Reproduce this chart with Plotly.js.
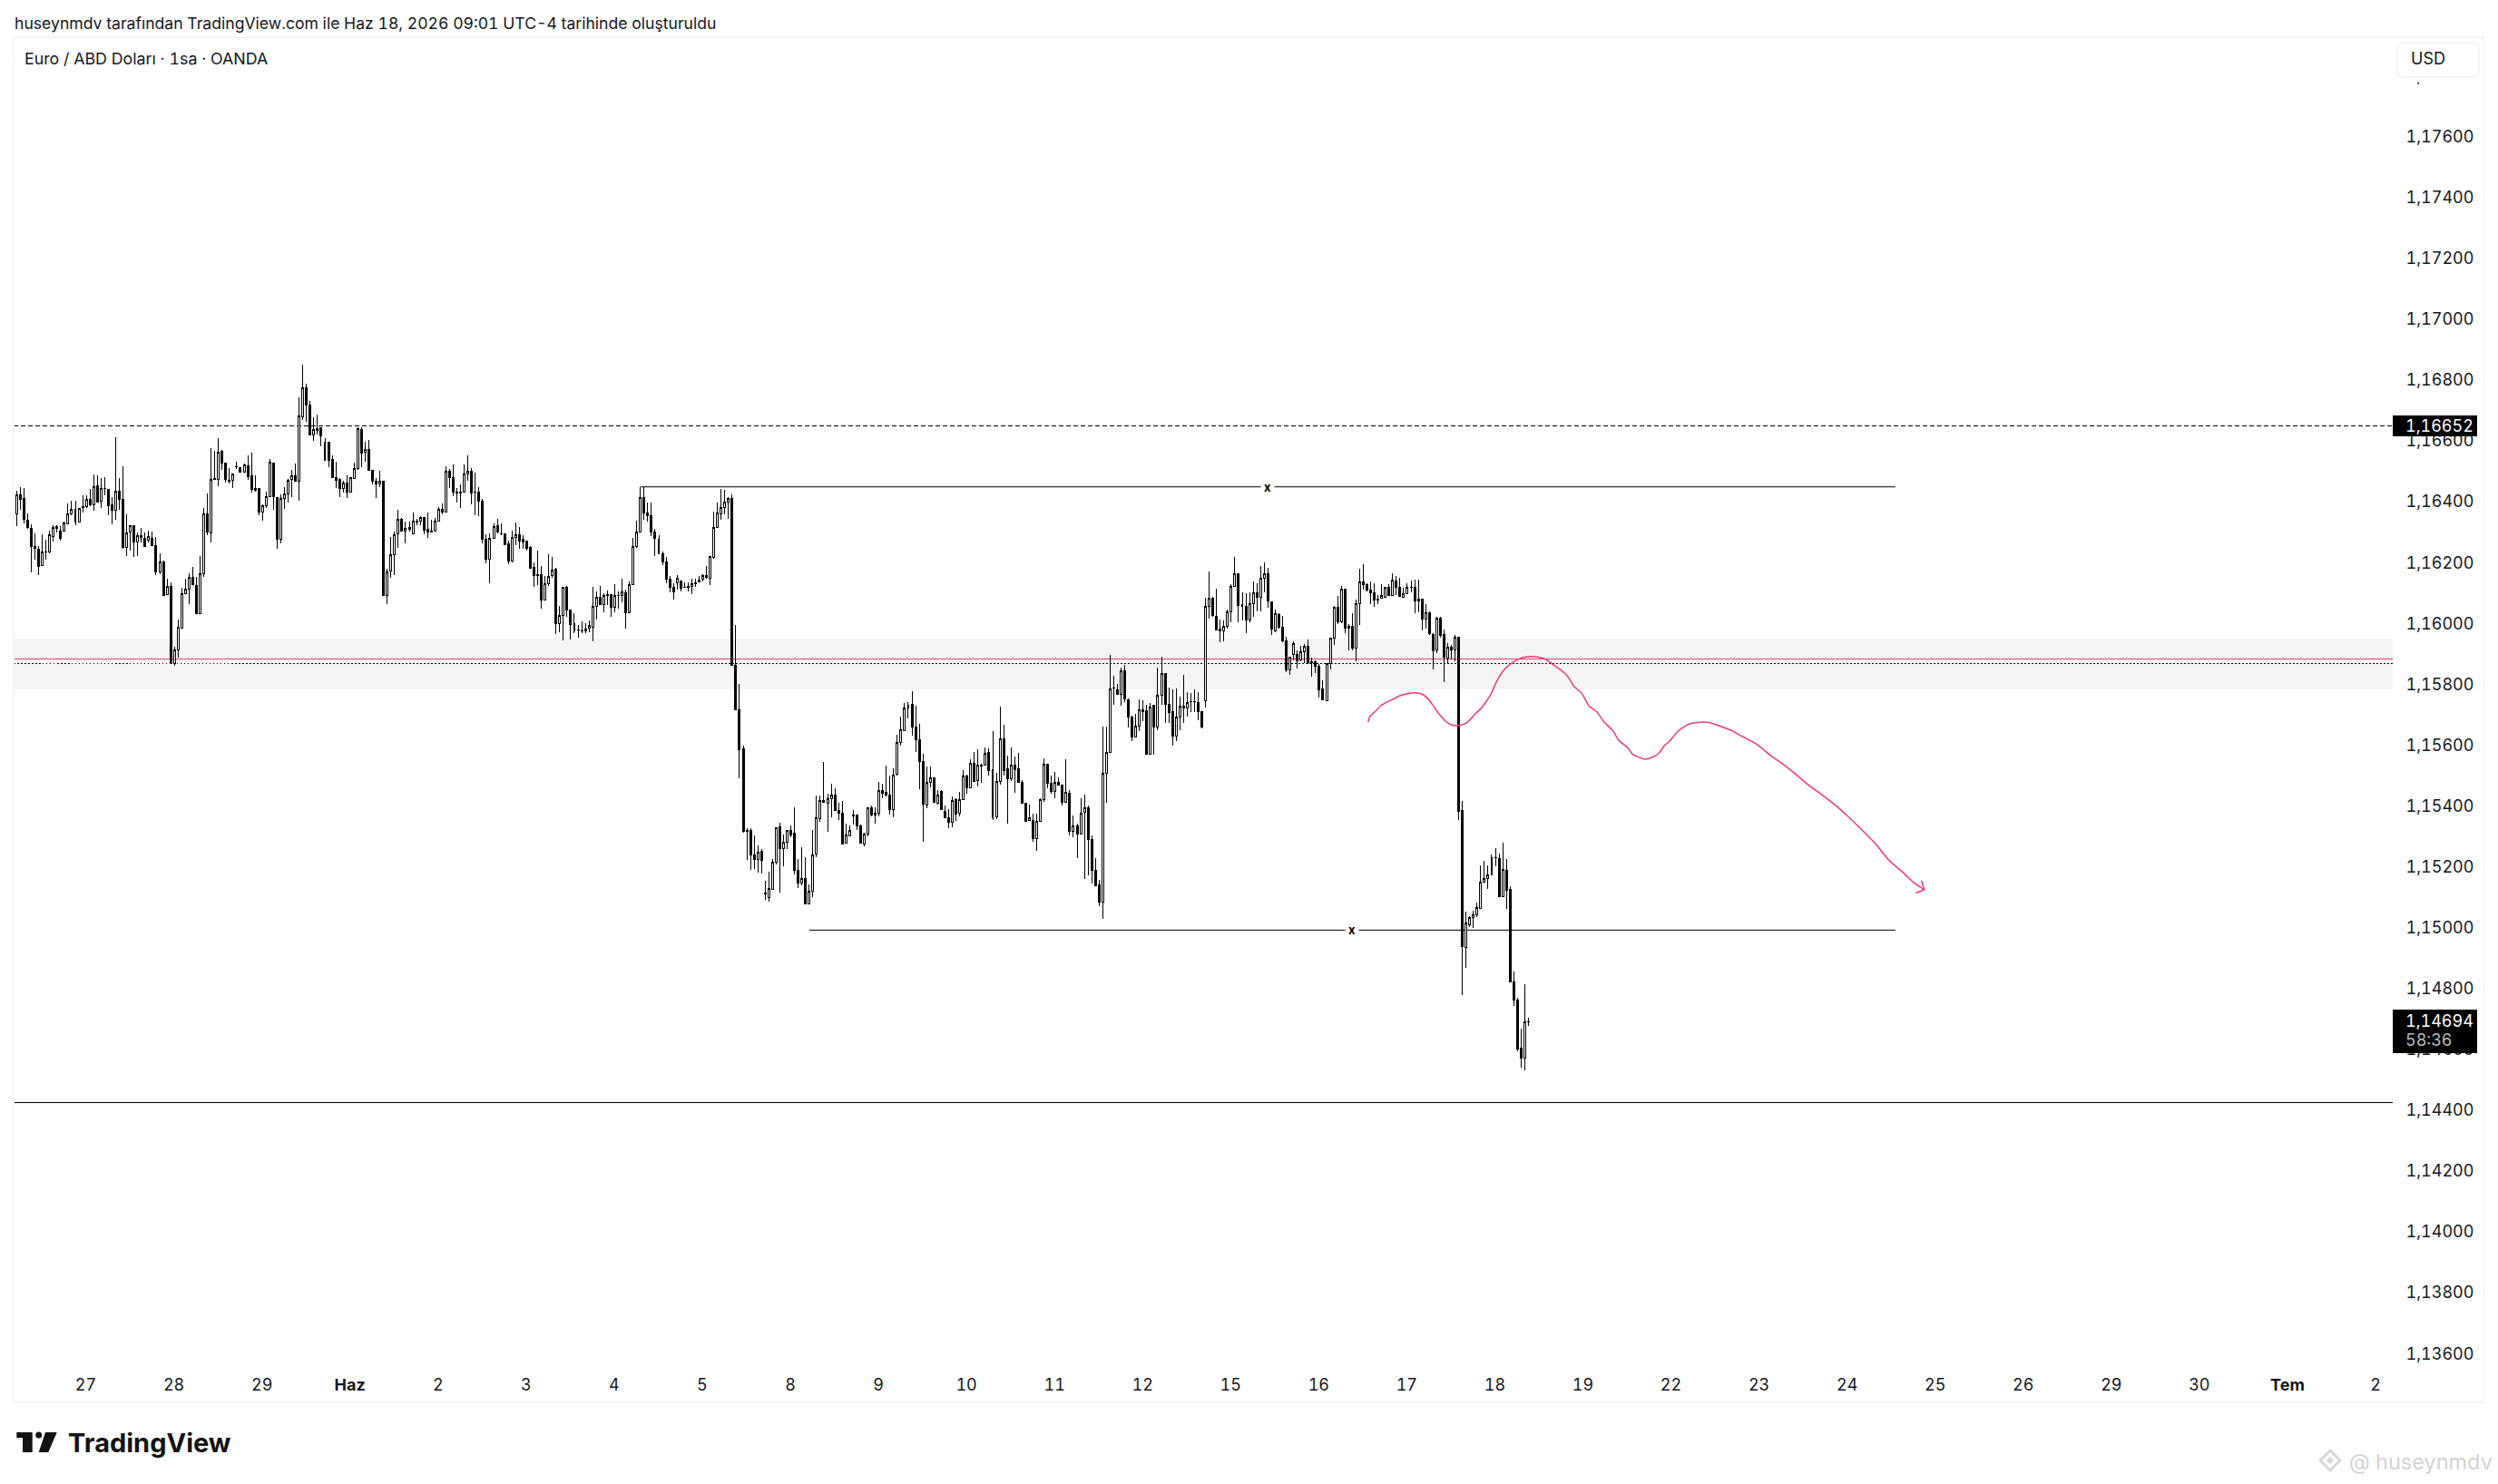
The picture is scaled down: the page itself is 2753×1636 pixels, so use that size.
<!DOCTYPE html>
<html><head><meta charset="utf-8">
<script src="https://cdn.plot.ly/plotly-3.0.1.min.js"></script>
<style>html,body{margin:0;padding:0;background:#fff}#c{width:2753px;height:1636px}
.xtick text,.ytick text,.annotation-text{font-variant-numeric:tabular-nums;font-feature-settings:"tnum"}
.layer-below .shapelayer path,.boxes path{shape-rendering:crispEdges}</style>
</head><body><div id="c"></div>
<script>
// Prices in 1e-5 units, one entry per hourly candle
const opens=[116360,116423,116411,116339,116313,116253,116244,116189,116234,116234,
116286,116317,116304,116304,116328,116359,116375,116334,116384,116383,
116408,116389,116453,116401,116443,116442,116390,116371,116435,116408,
116250,116300,116320,116267,116289,116280,116273,116280,116257,116169,
116203,116095,116122,115867,115913,115986,116098,116113,116152,116125,
116031,116164,116360,116298,116477,116474,116566,116527,116472,116470,
116514,116513,116497,116518,116484,116443,116444,116365,116386,116416,
116527,116414,116276,116411,116425,116473,116485,116467,116679,116775,
116718,116619,116634,116644,116596,116596,116539,116480,116474,116443,
116462,116431,116477,116509,116638,116562,116572,116503,116468,116458,
116468,116092,116172,116226,116294,116342,116303,116316,116294,116337,
116336,116349,116310,116304,116303,116336,116375,116366,116499,116480,
116433,116433,116431,116491,116501,116433,116433,116403,116277,116210,
116279,116320,116296,116296,116261,116206,116284,116292,116277,116271,
116251,116183,116159,116159,116076,116130,116156,116177,115999,116026,
116119,116044,116000,115979,115977,115975,115984,115987,116055,116086,
116062,116095,116095,116054,116093,116092,116101,116036,116128,116252,
116301,116414,116364,116355,116301,116277,116229,116203,116146,116119,
116134,116140,116120,116122,116122,116133,116137,116146,116158,116149,
116216,116316,116360,116380,116399,116412,115863,115717,115587,115321,
115320,115240,115224,115250,115111,115100,115126,115216,115332,115260,
115281,115320,115311,115189,115146,115162,115078,115120,115241,115358,
115419,115409,115424,115437,115386,115377,115277,115302,115367,115371,
115336,115275,115309,115395,115371,115376,115451,115445,115437,115388,
115503,115608,115648,115722,115735,115660,115618,115547,115403,115477,
115493,115409,115448,115383,115362,115346,115422,115376,115421,115499,
115459,115541,115483,115535,115535,115577,115520,115364,115481,115621,
115521,115489,115535,115523,115478,115410,115352,115353,115292,115349,
115422,115538,115476,115447,115479,115469,115413,115443,115316,115336,
115308,115379,115395,115290,115189,115142,115085,115508,115576,115789,
115783,115768,115845,115750,115693,115626,115662,115717,115712,115570,
115730,115659,115763,115836,115734,115711,115629,115692,115728,115722,
115742,115742,115740,115711,115745,116056,116083,116023,115982,115975,
115990,116037,116122,116164,116062,116056,116010,116064,116101,116085,
116149,116164,116071,115977,116029,115988,115943,115846,115897,115898,
115879,115906,115925,115874,115874,115859,115785,115746,115868,115952,
116053,116005,116113,115985,115991,115920,116065,116137,116128,116110,
116101,116081,116084,116086,116119,116091,116140,116119,116087,116099,
116118,116119,116073,116080,116013,116036,115965,115912,116017,115964,
115887,115922,115913,115955,115384,114936,115010,115034,115042,115064,
115151,115163,115174,115230,115228,115102,115189,115127,114823,114763,
114605,114570,114690];
const closes=[116422,116409,116341,116315,116252,116246,116186,116235,116235,116292,
116316,116312,116279,116331,116360,116375,116333,116378,116380,116408,
116389,116450,116398,116444,116444,116386,116372,116435,116407,116249,
116298,116320,116267,116289,116282,116252,116286,116255,116169,116202,
116093,116122,115867,115912,115988,116098,116113,116152,116127,116031,
116164,116360,116300,116474,116473,116563,116526,116473,116469,116492,
116515,116497,116521,116482,116440,116439,116365,116387,116416,116529,
116416,116276,116411,116425,116471,116484,116467,116681,116775,116717,
116619,116638,116641,116616,116535,116536,116479,116470,116443,116462,
116432,116478,116509,116641,116559,116571,116502,116469,116458,116468,
116093,116169,116226,116292,116342,116303,116313,116311,116337,116332,
116349,116308,116300,116302,116337,116375,116366,116501,116479,116431,
116428,116428,116492,116501,116428,116431,116401,116278,116210,116280,
116319,116302,116294,116260,116206,116283,116292,116272,116269,116248,
116181,116157,116158,116076,116131,116155,116174,115999,116027,116119,
116044,115995,115977,115978,115975,115982,115994,116055,116086,116061,
116092,116091,116054,116092,116091,116104,116036,116128,116253,116301,
116414,116363,116354,116300,116279,116228,116202,116145,116118,116104,
116148,116115,116118,116118,116131,116131,116143,116158,116151,116220,
116316,116364,116381,116399,116411,115862,115716,115585,115318,115316,
115239,115224,115248,115221,115113,115129,115216,115329,115260,115281,
115320,115306,115189,115146,115162,115078,115120,115240,115362,115419,
115413,115425,115437,115385,115376,115276,115305,115320,115369,115334,
115277,115309,115393,115370,115377,115451,115442,115436,115388,115502,
115609,115651,115723,115732,115659,115617,115547,115406,115478,115493,
115412,115437,115388,115361,115346,115419,115373,115422,115499,115459,
115541,115482,115535,115532,115574,115516,115361,115481,115621,115516,
115489,115535,115520,115477,115409,115350,115362,115292,115350,115422,
115538,115474,115447,115478,115468,115412,115445,115316,115336,115307,
115377,115395,115289,115189,115139,115085,115508,115576,115785,115787,
115768,115844,115752,115692,115628,115663,115717,115710,115570,115726,
115659,115765,115836,115733,115708,115629,115692,115728,115723,115740,
115743,115743,115710,115660,116056,116083,116025,115980,115975,115991,
116039,116122,116164,116058,116055,116010,116065,116101,116085,116149,
116164,116073,115981,116032,115988,115942,115846,115888,115934,115878,
115906,115925,115872,115872,115859,115783,115748,115868,115952,116053,
116005,116113,115984,115991,115920,116065,116137,116127,116109,116100,
116076,116076,116091,116119,116091,116143,116118,116089,116098,116119,
116119,116073,116081,116013,116035,115966,115909,116017,115962,115888,
115922,115913,115955,115383,114939,115016,115034,115042,115066,115151,
115163,115174,115231,115231,115102,115192,115123,114822,114762,114601,
114571,114691,114691];
const highs=[116436,116447,116444,116361,116325,116295,116255,116292,116275,116304,
116323,116322,116320,116335,116394,116402,116402,116381,116421,116420,
116441,116489,116487,116477,116481,116443,116416,116612,116478,116518,
116358,116324,116322,116300,116315,116300,116306,116302,116283,116230,
116208,116146,116134,115922,116014,116116,116146,116164,116187,116153,
116223,116379,116427,116575,116566,116609,116569,116527,116510,116492,
116531,116515,116525,116552,116560,116486,116444,116391,116432,116540,
116528,116414,116424,116447,116476,116504,116527,116742,116852,116787,
116730,116679,116688,116646,116610,116596,116554,116533,116477,116469,
116486,116481,116528,116645,116644,116596,116602,116506,116477,116501,
116469,116179,116283,116301,116375,116348,116335,116335,116365,116345,
116354,116350,116365,116340,116347,116383,116394,116517,116507,116522,
116445,116456,116522,116554,116512,116495,116447,116408,116292,116295,
116328,116343,116328,116297,116271,116305,116331,116316,116290,116273,
116254,116201,116240,116189,116156,116227,116220,116183,116059,116119,
116124,116044,116034,115994,116006,116000,116009,116119,116104,116124,
116099,116107,116096,116129,116104,116146,116111,116138,116280,116337,
116449,116449,116397,116397,116310,116290,116235,116220,116157,116131,
116159,116141,116134,116136,116146,116146,116156,116163,116189,116223,
116368,116397,116441,116438,116415,116424,115994,115801,115598,115326,
115326,115304,115271,115259,115154,115184,115226,115331,115344,115306,
115321,115336,115396,115227,115265,115232,115142,115321,115435,115435,
115545,115441,115473,115458,115411,115416,115342,115336,115386,115371,
115338,115311,115394,115401,115396,115479,115473,115533,115500,115523,
115634,115694,115739,115742,115777,115730,115670,115571,115530,115530,
115495,115451,115451,115401,115389,115432,115426,115445,115518,115503,
115553,115578,115585,115540,115592,115590,115646,115510,115727,115666,
115565,115593,115563,115575,115484,115411,115404,115376,115374,115426,
115557,115538,115500,115512,115495,115470,115553,115452,115369,115343,
115426,115436,115401,115302,115229,115157,115661,115661,115896,115829,
115801,115855,115863,115752,115696,115702,115750,115747,115734,115739,
115734,115855,115892,115836,115788,115783,115785,115758,115830,115773,
115771,115783,115773,115713,116085,116171,116086,116113,116012,116010,
116046,116128,116218,116164,116101,116099,116101,116139,116133,116190,
116200,116182,116071,116047,116033,116026,115957,115889,115942,115912,
115927,115932,115946,115889,115880,115867,115813,115870,115952,116058,
116089,116123,116113,115997,116033,116079,116180,116194,116133,116137,
116133,116093,116129,116121,116129,116164,116155,116149,116118,116133,
116141,116143,116143,116081,116064,116041,115967,116021,116023,115979,
115934,115929,115962,115957,115416,115053,115038,115056,115083,115205,
115219,115205,115240,115262,115244,115279,115225,115136,114857,114770,
114669,114813,114703];
const lows=[116321,116374,116330,116310,116169,116210,116160,116189,116210,116230,
116270,116300,116273,116303,116327,116356,116324,116333,116364,116380,
116387,116371,116398,116379,116422,116356,116327,116341,116374,116246,
116222,116240,116218,116222,116265,116252,116265,116255,116160,116163,
116091,116095,115867,115862,115888,115986,116096,116063,116126,116031,
116031,116154,116290,116266,116472,116451,116506,116463,116461,116445,
116508,116496,116496,116472,116429,116434,116355,116337,116379,116415,
116373,116245,116263,116376,116396,116414,116467,116404,116669,116664,
116619,116601,116622,116583,116535,116513,116478,116445,116416,116431,
116412,116431,116475,116506,116513,116532,116501,116457,116413,116447,
116093,116064,116150,116160,116249,116302,116264,116302,116294,116323,
116324,116292,116282,116300,116302,116335,116360,116366,116446,116419,
116397,116379,116431,116469,116391,116356,116354,116264,116199,116133,
116278,116295,116289,116259,116196,116201,116258,116245,116246,116239,
116180,116121,116126,116049,116076,116124,116151,115966,115972,115945,
116022,115948,115967,115952,115969,115967,115971,115942,116014,116060,
116036,116061,116023,116037,116049,116070,115984,116035,116127,116249,
116300,116341,116336,116288,116222,116228,116192,116131,116103,116078,
116111,116106,116118,116105,116096,116121,116134,116137,116148,116126,
116213,116316,116341,116360,116343,115862,115716,115492,115312,115224,
115190,115194,115182,115178,115093,115087,115125,115209,115116,115202,
115260,115298,115176,115131,115140,115078,115078,115099,115233,115348,
115412,115315,115364,115384,115355,115274,115277,115301,115338,115321,
115276,115268,115301,115366,115343,115365,115426,115432,115372,115364,
115501,115599,115647,115689,115632,115578,115455,115282,115394,115461,
115410,115406,115386,115359,115328,115331,115352,115367,115421,115440,
115457,115480,115465,115477,115534,115500,115355,115358,115470,115500,
115342,115482,115443,115477,115408,115348,115351,115281,115254,115349,
115415,115458,115441,115424,115467,115401,115412,115304,115298,115230,
115307,115161,115172,115145,115137,115072,115028,115411,115575,115734,
115764,115731,115742,115659,115614,115626,115646,115679,115570,115570,
115570,115649,115733,115674,115674,115599,115614,115649,115674,115693,
115710,115710,115682,115656,115723,116016,116021,115977,115939,115942,
115982,116005,116122,116005,116010,115969,116005,116021,116039,116039,
116101,116051,115962,115970,115982,115937,115841,115831,115880,115852,
115877,115870,115867,115826,115838,115755,115748,115745,115850,115930,
115997,116002,115969,115912,115912,115876,115996,116111,116106,116063,
116056,116064,116082,116083,116089,116089,116093,116088,116083,116098,
116103,116033,116036,115977,115982,115962,115849,115902,115952,115808,
115870,115882,115875,115353,114777,114869,115003,114999,115036,115064,
115150,115128,115174,115203,115102,115102,115063,114819,114744,114595,
114541,114531,114678];

// Hand-drawn projection, [candle position] and [price in 1e-5 units]
const pathPos=[368.3,368.9,370.3,371.9,373.4,375.0,377.1,379.1,381.2,383.1,384.6,386.2,387.7,389.4,391.1,392.5,394.8,396.3,397.4,398.9,400.5,401.8,403.3,405.2,407.2,408.8,410.9,413.0,415.6,417.1,418.7,421.3,422.9,424.4,426.5,428.6,430.7,432.4,435.1,436.6,439.0,440.3,442.1,444.0,445.9,447.6,449.1,450.4,452.8,455.6,457.7,460.8,463.9,467.1,470.2,474.4,478.0,481.1,484.3,487.9,491.6,495.2,498.8,502.5,506.6,510.3,514.5,517.1,519.9];
const pathPrice=[115676,115696,115711,115731,115741,115750,115763,115769,115772,115767,115753,115727,115702,115679,115666,115664,115671,115686,115702,115718,115743,115768,115808,115845,115868,115880,115889,115891,115887,115879,115865,115843,115823,115793,115771,115728,115709,115679,115646,115616,115592,115571,115560,115554,115561,115574,115599,115612,115646,115669,115674,115675,115664,115649,115629,115602,115566,115540,115510,115473,115440,115407,115369,115326,115276,115221,115177,115147,115125];
const arrowPos=[519.1,519.9,517.6];
const arrowPrice=[115155,115125,115114];

const yTicks=[1.136,1.138,1.14,1.142,1.144,1.146,1.148,1.15,1.152,1.154,1.156,1.158,1.16,1.162,1.164,1.166,1.168,1.17,1.172,1.174,1.176,1.178];
const yLabels=["1,13600","1,13800","1,14000","1,14200","1,14400","1,14600","1,14800","1,15000","1,15200","1,15400","1,15600","1,15800","1,16000","1,16200","1,16400","1,16600","1,16800","1,17000","1,17200","1,17400","1,17600","1,17800"];
const dayLabels=["27","28","29","<b>Haz</b>","2","3","4","5","8","9","10","11","12","15","16","17","18","19","22","23","24","25","26","29","30","<b>Tem</b>","2"];
const firstDayPos=18.85, candlesPerDay=24;

const dashedLevel=1.16648, dottedLevel=1.15868, pinkLevel=1.15883;
const bandTop=1.1595, bandBottom=1.15783, lowerLevel=1.14426;
const upperTrend={from:170,to:512,price:1.16449}, midTrend={from:216,to:512,price:1.14992};

const idx=opens.map((_,i)=>i);
const scale=a=>a.map(v=>v/1e5);
const F='Inter, "Noto Sans", sans-serif', TXT='#131722', PINK='#ee3a78';
const L=15,R=2637,T=41,B=1506;
const px=x=>(x-L)/(R-L), py=y=>1-(y-T)/(B-T);
const rect=(x0,y0,x1,y1,fill,line,lw,layer)=>({type:'rect',xref:'paper',yref:'paper',x0:px(x0),x1:px(x1),y0:py(y0),y1:py(y1),fillcolor:fill,line:{color:line||'rgba(0,0,0,0)',width:lw||0},layer:layer||'above'});
const poly=(pts,fill)=>({type:'path',xref:'paper',yref:'paper',fillcolor:fill,line:{width:0},layer:'above',
  path:'M'+pts.map(p=>px(p[0])+','+py(p[1])).join(' L')+' Z'});
const rrect=(x0,y0,x1,y1,r,fill,line)=>{
  const P=(x,y)=>px(x)+','+py(y);
  return {type:'path',xref:'paper',yref:'paper',fillcolor:fill,line:{color:line,width:1.5},layer:'above',
   path:`M${P(x0+r,y0)} L${P(x1-r,y0)} Q${P(x1,y0)} ${P(x1,y0+r)} L${P(x1,y1-r)} Q${P(x1,y1)} ${P(x1-r,y1)} L${P(x0+r,y1)} Q${P(x0,y1)} ${P(x0,y1-r)} L${P(x0,y0+r)} Q${P(x0,y0)} ${P(x0+r,y0)} Z`};
};
const hline=(p,color,w,dash)=>({type:'line',xref:'paper',yref:'y',x0:0,x1:1,y0:p,y1:p,line:{color,width:w,dash:dash||'solid'},layer:'below'});
const tline=t=>({type:'line',xref:'x',yref:'y',x0:t.from,x1:t.to,y0:t.price,y1:t.price,line:{color:'#000',width:1},layer:'below'});

const traces=[
 {type:'candlestick',x:idx,open:scale(opens),high:scale(highs),low:scale(lows),close:scale(closes),
  increasing:{line:{color:'#000',width:1},fillcolor:'#fff'},
  decreasing:{line:{color:'#000',width:1},fillcolor:'#000'},whiskerwidth:0,hoverinfo:'skip',showlegend:false},
 {type:'scatter',mode:'lines',x:pathPos,y:scale(pathPrice),line:{color:PINK,width:1.5,shape:'spline',smoothing:0.6},hoverinfo:'skip',showlegend:false},
 {type:'scatter',mode:'lines',x:arrowPos,y:scale(arrowPrice),line:{color:PINK,width:1.5},hoverinfo:'skip',showlegend:false}
];

const shapes=[
 {type:'rect',xref:'paper',yref:'y',x0:0,x1:1,y0:bandBottom,y1:bandTop,fillcolor:'#f5f5f5',line:{width:0},layer:'below'},
 hline(pinkLevel,PINK,1),
 hline(dottedLevel,'#000',1,'1.5px,2.5px'),
 hline(dashedLevel,'#000',1,'5px,3px'),
 hline(lowerLevel,'#000',1),
 tline(upperTrend),tline(midTrend),
 // chart frame
 rect(15,41,2737,1546,'rgba(0,0,0,0)','#f3f4f6',2,'below'),
 // USD box, hiding the top tick's digits as the reference does
 rect(2642,47,2732,90.5,'#fff'),
 rrect(2642,47,2732,85,8,'#fff','#f0f1f3'),
 // price tags
 rect(2637,458,2730,481,'#000'),
 rect(2637,1113,2730,1161,'#000'),
 // TradingView mark
 poly([[18.3,1579],[35.7,1579],[35.7,1601],[25,1601],[25,1585],[18.3,1585]],'#131313'),
 {type:'circle',xref:'paper',yref:'paper',x0:px(39.2),x1:px(46.2),y0:py(1578.5),y1:py(1585.5),fillcolor:'#131313',line:{width:0},layer:'above'},
 poly([[50,1579],[62.7,1579],[53.3,1601],[42.7,1601]],'#131313'),
 // watermark mark
 poly([[2568,1597],[2581,1610],[2568,1623],[2555,1610],[2559,1610],[2568,1619],[2577,1610],[2568,1601],[2559,1610],[2555,1610]],'#d6d6d6'),
 poly([[2568,1606],[2572,1610],[2568,1614],[2564,1610]],'#d6d6d6')
];

const note=(x,y,text,size,color,anchor,extra)=>Object.assign({xref:'paper',yref:'paper',x:px(x),y:py(y),text,showarrow:false,
  xanchor:anchor||'left',yanchor:'middle',font:{family:F,size,color},borderpad:0},extra||{});

const annotations=[
 note(15,25,'huseynmdv tarafından TradingView.com ile Haz 18, 2026 09:01 UTC-4 tarihinde oluşturuldu',17.6,TXT),
 note(26,65,'Euro / ABD Doları · 1sa · OANDA',17.8,TXT),
 note(2656,65,'USD',18,TXT),
 note(2650,469,'1,16652',18,'#fff'),
 note(2650,1125,'1,14694',18,'#fff'),
 note(2650,1146,'58:36',18,'#bdbdbd'),
 {xref:'x',yref:'y',x:upperTrend.from/2+upperTrend.to/2,y:upperTrend.price,text:'<b>x</b>',showarrow:false,bgcolor:'#fff',font:{family:F,size:13,color:'#000'},xanchor:'center',yanchor:'middle',borderpad:3},
 {xref:'x',yref:'y',x:midTrend.from/2+midTrend.to/2,y:midTrend.price,text:'<b>x</b>',showarrow:false,bgcolor:'#fff',font:{family:F,size:13,color:'#000'},xanchor:'center',yanchor:'middle',borderpad:3},
 note(74,1590,'<b>TradingView</b>',29,'#131313'),
 note(2588,1612,'@ huseynmdv',23.5,'#d2d2d2')
];

Plotly.newPlot('c',traces,{
 width:2753,height:1636,
 margin:{l:L,r:2753-R,t:T,b:1636-B,pad:0},
 paper_bgcolor:'#fff',plot_bgcolor:'rgba(0,0,0,0)',showlegend:false,hovermode:false,
 font:{family:F,color:TXT},
 xaxis:{type:'linear',range:[(L-18.3)/4.044,(R-18.3)/4.044],fixedrange:true,rangeslider:{visible:false},
  showgrid:false,zeroline:false,showline:false,
  tickmode:'array',tickvals:dayLabels.map((_,k)=>firstDayPos+candlesPerDay*k),ticktext:dayLabels,
  ticks:'outside',ticklen:4,tickcolor:'rgba(0,0,0,0)',tickfont:{family:F,size:18,color:TXT}},
 yaxis:{type:'linear',side:'right',range:[1.13559,1.17927],fixedrange:true,
  showgrid:false,zeroline:false,showline:false,
  tickmode:'array',tickvals:yTicks,ticktext:yLabels,
  ticks:'outside',ticklen:10,tickcolor:'rgba(0,0,0,0)',tickfont:{family:F,size:18,color:TXT}},
 shapes,annotations
},{displayModeBar:false,staticPlot:true});
</script></body></html>
